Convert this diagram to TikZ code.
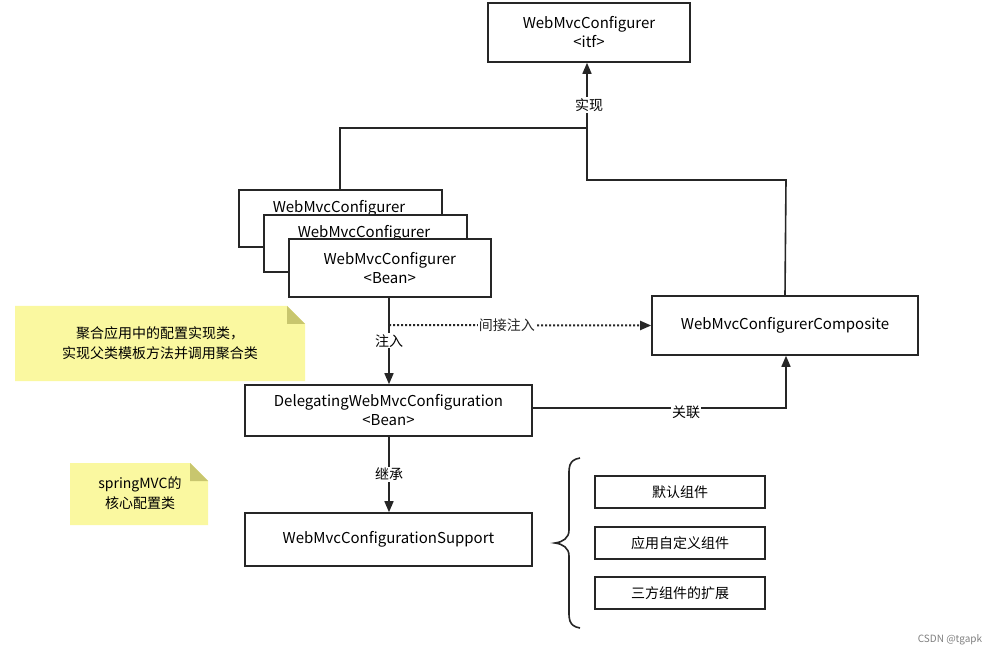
\documentclass[tikz,border=0pt]{standalone}
\usepackage{fontspec}
\setmainfont{Noto Sans CJK SC}
\usetikzlibrary{arrows.meta}
\begin{document}
\begin{tikzpicture}[x=1pt,y=-1pt,
  box/.style={draw=black!85,line width=1.6pt,fill=white,align=center,inner sep=0pt,font=\fontsize{15}{19}\selectfont},
  sbox/.style={draw=black!85,line width=1.3pt,fill=white,inner sep=0pt,font=\fontsize{14}{17}\selectfont},
  conn/.style={draw=black!85,line width=1.6pt},
  arr/.style={conn,-{Triangle[length=11pt,width=9pt]}},
  lbl/.style={fill=white,inner sep=1pt,font=\fontsize{14}{17}\selectfont},
  note/.style={fill=yellow!45!white!95!black}]
\useasboundingbox (0,0) rectangle (994,655);
\fill[white] (0,0) rectangle (994,655);
% notes
\fill[note,fill={rgb,255:red,250;green,248;blue,160}] (15,306) -- (287,306) -- (305,324) -- (305,381) -- (15,381) -- cycle;
\fill[fill={rgb,255:red,200;green,198;blue,110}] (287,306) -- (305,324) -- (287,324) -- cycle;
\node[align=center,font=\fontsize{14}{20}\selectfont] (n1) at (160,343) {聚合应用中的配置实现类，\\实现父类模板方法并调用聚合类};
\fill[fill={rgb,255:red,250;green,248;blue,160}] (70,463) -- (190,463) -- (208,481) -- (208,525) -- (70,525) -- cycle;
\fill[fill={rgb,255:red,200;green,198;blue,110}] (190,463) -- (208,481) -- (190,481) -- cycle;
\node[align=center,font=\fontsize{14}{20}\selectfont] (n2) at (140,493) {springMVC的\\核心配置类};
% boxes
\node[box,minimum width=202pt,minimum height=59pt] (itf) at (589,32.5) {WebMvcConfigurer\\<itf>};
\node[box,minimum width=203pt,minimum height=57pt,anchor=north west,align=center] (b1) at (238,189) {};
\node[font=\fontsize{15}{19}\selectfont] at (339,208) {WebMvcConfigurer};
\node[box,minimum width=203pt,minimum height=57pt,anchor=north west] (b2) at (263,214) {};
\node[font=\fontsize{15}{19}\selectfont] at (364,233) {WebMvcConfigurer};
\node[box,minimum width=202pt,minimum height=58pt,anchor=north west] (b3) at (288,238) {WebMvcConfigurer\\<Bean>};
\node[box,minimum width=266pt,minimum height=59pt] (comp) at (785,325.5) {WebMvcConfigurerComposite};
\node[box,minimum width=287pt,minimum height=51pt] (del) at (388.5,410.5) {DelegatingWebMvcConfiguration\\<Bean>};
\node[box,minimum width=287pt,minimum height=53pt] (sup) at (388.5,539.5) {WebMvcConfigurationSupport};
% connectors
\coordinate (j) at (587,128);
\draw[conn] (b1.north -| 340,0) -- (340,128) -- (j);
\draw[arr] (comp.north) -- (786,180) -- (587,180) -- (itf.south -| 587,0);
\node[lbl] at (589,105) {实现};
\draw[arr] (b3.south -| 389,0) -- (del.north -| 389,0) node[pos=0.5,lbl] {注入};
\draw[black!85,line width=2pt,dotted,-{Triangle[length=11pt,width=9pt]}] (389,325) -- (comp.west) node[pos=0.45,lbl] {间接注入};
\draw[arr] (del.east |- 0,408) -- (786,408) -- (comp.south -| 786,0);
\node[lbl] at (686,412) {关联};
\draw[arr] (del.south -| 389,0) -- (sup.north -| 389,0) node[pos=0.5,lbl] {继承};
% brace
\draw[black!85,line width=1.6pt] (580,458) .. controls (568,460) and (569,468) .. (569,478) -- (569,530) .. controls (569,538) and (563,542) .. (555,543) .. controls (563,544) and (569,548) .. (569,556) -- (569,608) .. controls (569,618) and (568,626) .. (580,628);
\node[sbox,minimum width=170pt,minimum height=32pt] (c1) at (680,492) {默认组件};
\node[sbox,minimum width=170pt,minimum height=32pt] (c2) at (680,543) {应用自定义组件};
\node[sbox,minimum width=170pt,minimum height=32pt] (c3) at (680,593) {三方组件的扩展};
\node[text=black!50,font=\fontsize{10}{12}\selectfont] (wm) at (950,640) {CSDN @tgapk};
\end{tikzpicture}
\end{document}
